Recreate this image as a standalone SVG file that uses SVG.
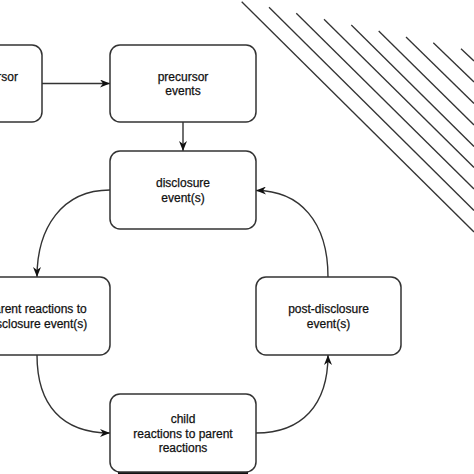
<svg xmlns="http://www.w3.org/2000/svg" width="474" height="474" viewBox="0 0 474 474">
<style>
.box{fill:#fff;stroke:#333;stroke-width:1.5}
.lbl{font-family:"Liberation Sans",Arial,sans-serif;font-size:12px;fill:#111;stroke:#111;stroke-width:0.25;text-anchor:middle}
.edge{fill:none;stroke:#333;stroke-width:1.4}
.hatch line{stroke:#333;stroke-width:1.3}
</style>
<defs>
<marker id="arr" viewBox="0 0 10 8" refX="10" refY="4" markerWidth="10" markerHeight="8" markerUnits="userSpaceOnUse" orient="auto">
<path d="M0,0 L10,4 L0,8 L3,4 z" fill="#111"/>
</marker>
</defs>
<rect width="474" height="474" fill="#fff"/>
<g class="hatch">
<line x1="241.7" y1="1.7" x2="474" y2="232"/>
<line x1="269" y1="7.3" x2="474" y2="210.5"/>
<line x1="296.3" y1="13.3" x2="474" y2="189"/>
<line x1="324" y1="19.3" x2="474" y2="167.5"/>
<line x1="351.3" y1="25" x2="474" y2="146.5"/>
<line x1="378.7" y1="31" x2="474" y2="125"/>
<line x1="406" y1="37" x2="474" y2="103.5"/>
<line x1="433.3" y1="42.7" x2="474" y2="82"/>
<line x1="461" y1="48.7" x2="474" y2="61"/>
</g>
<g id="connectors">
<path class="edge" d="M42,83.5 L110,83.5" marker-end="url(#arr)"/>
<path class="edge" d="M183,122 L183,151" marker-end="url(#arr)"/>
<path class="edge" d="M110,190 C62,190 37,228 37,277" marker-end="url(#arr)"/>
<path class="edge" d="M37,355 C37,405 62,433 110,433" marker-end="url(#arr)"/>
<path class="edge" d="M256,433 C302,433 328,405 328,355" marker-end="url(#arr)"/>
<path class="edge" d="M328,277 C328,222 300,190.5 256,190.5" marker-end="url(#arr)"/>
</g>
<g id="node-pre">
<rect class="box" x="-104" y="45" width="146" height="77" rx="10"/>
<text class="lbl" x="18" y="81" style="text-anchor:end">precursor</text>
</g>
<g id="node-precursor">
<rect class="box" x="110" y="45" width="146" height="77" rx="10"/>
<text class="lbl" x="183" y="81">precursor</text>
<text class="lbl" x="183" y="95">events</text>
</g>
<g id="node-disclosure">
<rect class="box" x="110" y="151" width="146" height="78" rx="10"/>
<text class="lbl" x="183" y="187">disclosure</text>
<text class="lbl" x="183" y="201.5">event(s)</text>
</g>
<g id="node-parent">
<rect class="box" x="-36" y="277" width="146" height="78" rx="10"/>
<text class="lbl" x="37" y="312.5">parent reactions to</text>
<text class="lbl" x="37" y="327.5">disclosure event(s)</text>
</g>
<g id="node-post">
<rect class="box" x="256" y="277" width="145" height="78" rx="10"/>
<text class="lbl" x="328.5" y="312.5">post-disclosure</text>
<text class="lbl" x="328.5" y="328">event(s)</text>
</g>
<g id="node-child">
<rect x="118" y="472" width="130" height="3" fill="#111"/>
<rect class="box" x="110" y="394" width="146" height="78" rx="10"/>
<text class="lbl" x="183" y="423">child</text>
<text class="lbl" x="183" y="437.5">reactions to parent</text>
<text class="lbl" x="183" y="451.5">reactions</text>
</g>
</svg>
